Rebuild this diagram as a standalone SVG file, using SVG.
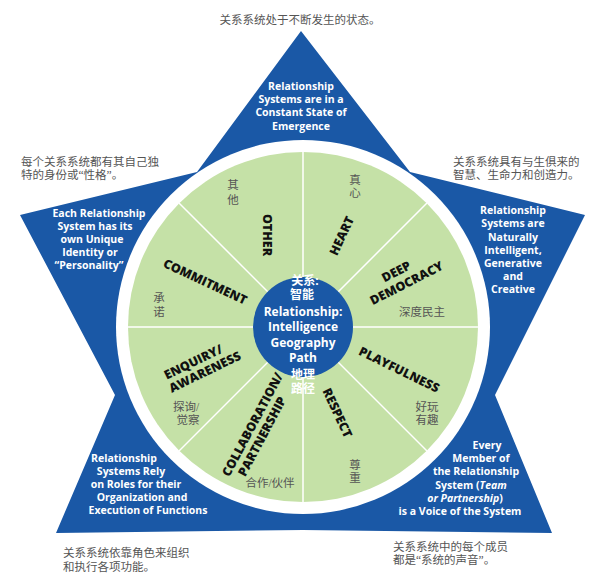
<svg xmlns="http://www.w3.org/2000/svg" width="600" height="582" viewBox="0 0 600 582">
<style>
.cn{font-family:"Liberation Serif","Noto Sans CJK SC",serif;font-size:11.5px;fill:#555}
.cw{font-family:"Liberation Serif","Noto Sans CJK SC",serif;font-size:11.5px;fill:#555;text-anchor:middle}
.st{font-family:"Open Sans","Liberation Sans",sans-serif;font-weight:bold;font-size:10.5px;fill:#fff;text-anchor:middle}
.wl{font-family:"Open Sans","Liberation Sans",sans-serif;font-weight:800;font-size:12.5px;fill:#111;text-anchor:middle}
.ct{font-family:"Open Sans","Liberation Sans","Noto Sans CJK SC",sans-serif;font-weight:bold;font-size:12px;fill:#fff;text-anchor:middle}
</style>
<rect width="600" height="582" fill="#fff"/>
<g id="star">
<polygon points="301,31 410,172 585,215 495,395 552,533 303,530 56,533 115,395 20,215 197,172" fill="#1a58a6"/>
</g>
<g id="wheel">
<circle cx="303" cy="327" r="187" fill="#fff"/>
<circle cx="303" cy="327" r="175" fill="#c5e1a7"/>
</g>
<g id="connectors" stroke="#fff" stroke-width="1.5">
<line x1="303" y1="152" x2="303" y2="502"/>
<line x1="128" y1="327" x2="478" y2="327"/>
<line x1="179" y1="203" x2="427" y2="451"/>
<line x1="427" y1="203" x2="179" y2="451"/>
</g>
<g id="center">
<circle cx="303" cy="327" r="50" fill="#1a58a6"/>
<text class="ct" x="305" y="285">关系:</text>
<text class="ct" x="302" y="299">智能</text>
<text class="ct" x="303" y="316">Relationship:</text>
<text class="ct" x="303" y="331">Intelligence</text>
<text class="ct" x="303" y="347">Geography</text>
<text class="ct" x="303" y="362">Path</text>
<text class="ct" x="303" y="379">地理</text>
<text class="ct" x="303" y="393">路径</text>
</g>
<g id="sectors">
<text class="wl" transform="translate(267,235) rotate(90)" dy="4">OTHER</text>
<text class="wl" transform="translate(342,236) rotate(-65)" dy="4">HEART</text>
<text class="wl" transform="translate(400,279) rotate(-27)"><tspan x="0" y="-4">DEEP</tspan><tspan x="4" y="11">DEMOCRACY</tspan></text>
<text class="wl" transform="translate(399,370) rotate(26)" dy="4">PLAYFULNESS</text>
<text class="wl" transform="translate(337,413) rotate(65)" dy="4">RESPECT</text>
<text class="wl" transform="translate(259,428) rotate(-62)"><tspan x="0" y="-3">COLLABORATION/</tspan><tspan x="-6" y="11">PARTNERSHIP</tspan></text>
<text class="wl" transform="translate(202,366) rotate(-26)"><tspan x="-6" y="-3">ENQUIRY/</tspan><tspan x="0" y="11">AWARENESS</tspan></text>
<text class="wl" transform="translate(205,282) rotate(25)" dy="4">COMMITMENT</text>
<text class="cw" x="233" y="189">其</text><text class="cw" x="233" y="204">他</text>
<text class="cw" x="355" y="184">真</text><text class="cw" x="355" y="197">心</text>
<text class="cw" x="422" y="316">深度民主</text>
<text class="cw" x="427" y="411">好玩</text><text class="cw" x="427" y="424">有趣</text>
<text class="cw" x="355" y="469">尊</text><text class="cw" x="355" y="482">重</text>
<text class="cw" x="270" y="487">合作/伙伴</text>
<text class="cw" x="186" y="411">探询/</text><text class="cw" x="188" y="424">觉察</text>
<text class="cw" x="159" y="302">承</text><text class="cw" x="159" y="316">诺</text>
</g>
<g id="point-top">
<text class="st" x="301" y="90">Relationship</text>
<text class="st" x="301" y="103">Systems are in a</text>
<text class="st" x="301" y="116">Constant State of</text>
<text class="st" x="301" y="130">Emergence</text>
<text class="cw" x="300" y="24">关系系统处于不断发生的状态。</text>
</g>
<g id="point-left">
<text class="st" x="99" y="217">Each Relationship</text>
<text class="st" x="95" y="230">System has its</text>
<text class="st" x="92" y="243">own Unique</text>
<text class="st" x="90" y="256">Identity or</text>
<text class="st" x="89" y="269">“Personality”</text>
<text class="cn" x="21" y="166">每个关系系统都有其自己独</text>
<text class="cn" x="21" y="179">特的身份或“性格”。</text>
</g>
<g id="point-right">
<text class="st" x="513" y="214">Relationship</text>
<text class="st" x="513" y="227">Systems are</text>
<text class="st" x="513" y="241">Naturally</text>
<text class="st" x="513" y="254">Intelligent,</text>
<text class="st" x="513" y="267">Generative</text>
<text class="st" x="513" y="280">and</text>
<text class="st" x="513" y="293">Creative</text>
<text class="cn" x="453" y="166">关系系统具有与生俱来的</text>
<text class="cn" x="453" y="179">智慧、生命力和创造力。</text>
</g>
<g id="point-bottom-left">
<text class="st" x="124" y="462">Relationship</text>
<text class="st" x="131" y="475">Systems Rely</text>
<text class="st" x="136" y="488">on Roles for their</text>
<text class="st" x="142" y="501">Organization and</text>
<text class="st" x="148" y="514">Execution of Functions</text>
<text class="cn" x="63" y="557">关系系统依靠角色来组织</text>
<text class="cn" x="63" y="571">和执行各项功能。</text>
</g>
<g id="point-bottom-right">
<text class="st" x="487" y="449">Every</text>
<text class="st" x="481" y="462">Member of</text>
<text class="st" x="476" y="475">the Relationship</text>
<text class="st" x="471" y="489">System (<tspan font-style="italic">Team</tspan></text>
<text class="st" x="465" y="502"><tspan font-style="italic">or Partnership</tspan>)</text>
<text class="st" x="460" y="515">is a Voice of the System</text>
<text class="cn" x="393" y="551">关系系统中的每个成员</text>
<text class="cn" x="393" y="564">都是“系统的声音”。</text>
</g>
</svg>
